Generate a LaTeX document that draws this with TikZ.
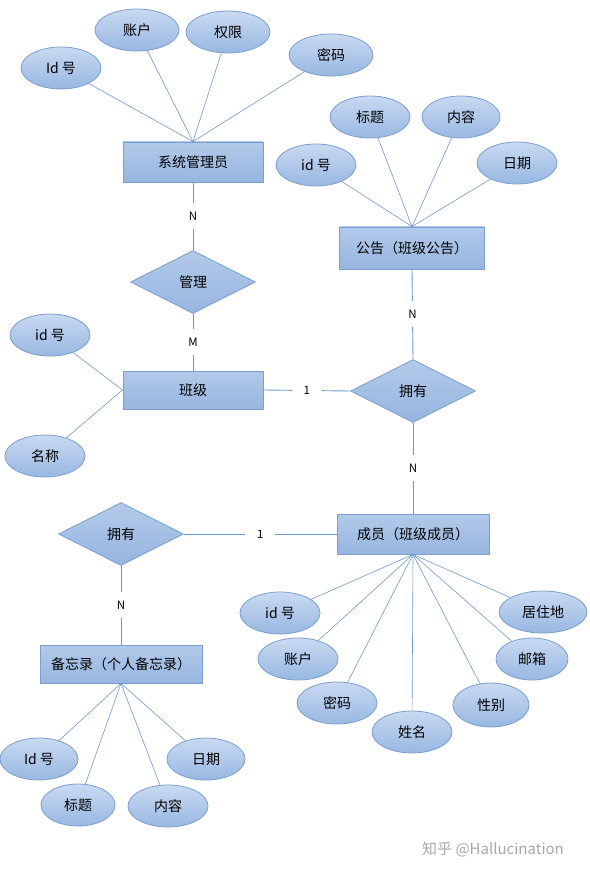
\documentclass[tikz,border=0pt]{standalone}
\usepackage{fontspec}
\setmainfont{Noto Sans CJK SC}
\usetikzlibrary{shapes.geometric}
\definecolor{edgeblue}{HTML}{7C9ECE}
\definecolor{lineblue}{HTML}{6E98CC}
\definecolor{filltop}{HTML}{C9DAF1}
\definecolor{fillbot}{HTML}{98B7E2}
\definecolor{boxtop}{HTML}{B2CAEA}
\definecolor{boxbot}{HTML}{97B5E0}
\definecolor{wm}{HTML}{A8A8A8}
\tikzset{
  attr/.style={ellipse, draw=edgeblue, line width=0.8pt, top color=filltop, bottom color=fillbot,
    minimum width=80pt, minimum height=42pt, inner sep=0pt, font=\fontsize{14}{14}\selectfont},
  ent/.style={rectangle, draw=edgeblue, line width=0.9pt, top color=boxtop, bottom color=boxbot,
    minimum width=140pt, minimum height=40pt, inner sep=0pt, font=\fontsize{14}{14}\selectfont},
  rel/.style={diamond, draw=edgeblue, line width=0.8pt, top color=boxtop, bottom color=boxbot,
    minimum width=125pt, minimum height=63pt, inner sep=0pt, font=\fontsize{14}{14}\selectfont},
  conn/.style={draw=lineblue, line width=0.6pt},
  link/.style={draw=lineblue, line width=0.9pt},
  card/.style={fill=white, inner sep=0pt, minimum width=30pt, minimum height=26pt, font=\fontsize{11.5}{11.5}\selectfont}
}
\begin{document}
\begin{tikzpicture}[x=1pt,y=-1pt]
\useasboundingbox (0,0) rectangle (589,874);
% top-left entity
\node[ent] (admin) at (193,162) {系统管理员};
\node[attr] (aid) at (61,68) {Id 号};
\node[attr, minimum width=84pt] (aacc) at (137,30) {账户};
\node[attr, minimum width=84pt] (aperm) at (228,32) {权限};
\node[attr, minimum width=84pt] (apwd) at (331,55) {密码};
\foreach \a in {aid,aacc,aperm,apwd} \draw[conn] (\a) -- (admin.north);
% relation manage
\node[rel] (manage) at (193,282) {管理};
\node[ent, minimum height=38pt] (class) at (193,390) {班级};
\draw[link] (admin.south) -- node[card] {N} (manage.north);
\draw[link] (manage.south) -- node[card] {M} (class.north);
\node[attr] (cid) at (50,335) {id 号};
\node[attr] (cname) at (45,456) {名称};
\draw[conn] (cid) -- (class.west);
\draw[conn] (cname) -- (class.west);
% notice
\node[ent, minimum width=145pt, minimum height=42pt] (notice) at (412,248) {公告（班级公告）};
\node[attr] (ntitle) at (370,117) {标题};
\node[attr, minimum width=78pt] (ncontent) at (461,117) {内容};
\node[attr] (nid) at (316,165) {id 号};
\node[attr] (ndate) at (517,163) {日期};
\foreach \a in {ntitle,ncontent,nid,ndate} \draw[conn] (\a) -- (notice.north);
% relation own (upper)
\node[rel] (own1) at (413,391) {拥有};
\draw[link] (class.east) -- node[card] {1} (own1.west);
\draw[link] (own1.north) -- node[card] {N} (notice.south);
% member
\node[ent, minimum width=152pt] (member) at (413,534) {成员（班级成员）};
\draw[link] (own1.south) -- node[card] {N} (member.north);
\node[attr] (mid) at (280,613) {id 号};
\node[attr] (macc) at (298,659) {账户};
\node[attr] (mpwd) at (337,703) {密码};
\node[attr] (mname) at (412,732) {姓名};
\node[attr, minimum width=76pt, minimum height=44pt] (msex) at (491,705) {性别};
\node[attr, minimum width=72pt] (mmail) at (532,659) {邮箱};
\node[attr, minimum width=88pt] (maddr) at (543,612) {居住地};
\foreach \a in {mid,macc,mpwd,mname,msex,mmail,maddr} \draw[conn] (\a) -- (member.south);
% relation own (lower)
\node[rel] (own2) at (121,534) {拥有};
\draw[link] (member.west) -- node[card] {1} (own2.east);
\node[ent, minimum width=162pt, minimum height=38pt] (memo) at (121,664) {备忘录（个人备忘录）};
\draw[link] (own2.south) -- node[card] {N} (memo.north);
\node[attr, minimum width=78pt] (oid) at (39,759) {Id 号};
\node[attr, minimum width=74pt] (otitle) at (78,805) {标题};
\node[attr] (ocontent) at (168,806) {内容};
\node[attr, minimum width=78pt] (odate) at (206,759) {日期};
\foreach \a in {oid,otitle,ocontent,odate} \draw[conn] (\a) -- (memo.south);
% watermark
\node[text=wm, font=\fontsize{15}{15}\selectfont, inner sep=0pt] (wmark) at (493,849) {知乎 @Hallucination};
\end{tikzpicture}
\end{document}
